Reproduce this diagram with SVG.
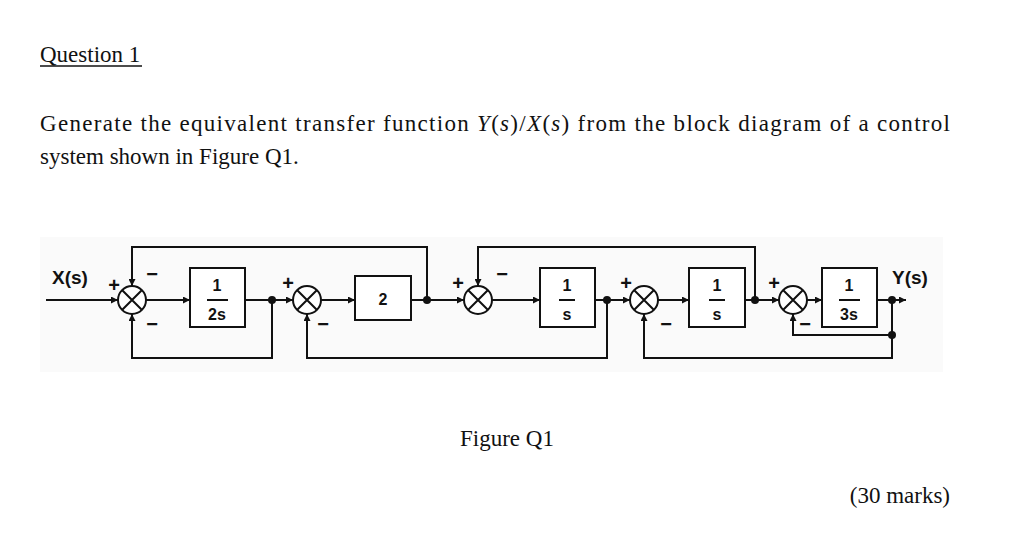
<svg xmlns="http://www.w3.org/2000/svg" width="1009" height="548" viewBox="0 0 1009 548">
<defs>
<marker id="ar" viewBox="0 0 10 10" refX="10" refY="5" markerWidth="9" markerHeight="7" orient="auto" markerUnits="userSpaceOnUse"><path d="M0,0L10,5L0,10z" fill="#111"/></marker>
<style>
.t{font-family:"Liberation Serif",serif;font-size:23px;fill:#111}
.d{font-family:"Liberation Sans",Arial,sans-serif;font-weight:bold;fill:#111}
.l{fill:none;stroke:#111;stroke-width:2}
.b{fill:#fff;stroke:#111;stroke-width:2}
.s{fill:#fff;stroke:#111;stroke-width:2}
</style>
</defs>
<rect width="1009" height="548" fill="#fff"/>
<text class="t" x="40" y="62" font-size="22">Question 1</text>
<line x1="40" y1="66" x2="142" y2="66" stroke="#111" stroke-width="1.3"/>
<text class="t" x="40" y="131" textLength="910" lengthAdjust="spacing">Generate the equivalent transfer function  <tspan font-style="italic">Y</tspan>(<tspan font-style="italic">s</tspan>)/<tspan font-style="italic">X</tspan>(<tspan font-style="italic">s</tspan>)  from the block diagram of a control</text>
<text class="t" x="40" y="164">system shown in Figure Q1.</text>
<text class="t" x="507" y="446" text-anchor="middle" font-size="19">Figure Q1</text>
<text class="t" x="950" y="503" text-anchor="end" font-size="19">(30 marks)</text>
<rect x="40" y="237" width="903" height="135" fill="#fafafa"/>
<g id="connectors" class="l">
<path d="M46,300H118" marker-end="url(#ar)"/>
<path d="M146,300H190" marker-end="url(#ar)"/>
<path d="M245,300H293" marker-end="url(#ar)"/>
<path d="M321,300H355" marker-end="url(#ar)"/>
<path d="M411,300H464" marker-end="url(#ar)"/>
<path d="M492,300H540" marker-end="url(#ar)"/>
<path d="M595,300H630" marker-end="url(#ar)"/>
<path d="M658,300H689" marker-end="url(#ar)"/>
<path d="M745,300H779" marker-end="url(#ar)"/>
<path d="M807,300H822" marker-end="url(#ar)"/>
<path d="M877,300H906" marker-end="url(#ar)"/>
<path d="M427,300V247H132V286" marker-end="url(#ar)"/>
<path d="M272,300V358H132V314" marker-end="url(#ar)"/>
<path d="M607,300V358H307V314" marker-end="url(#ar)"/>
<path d="M755,300V247H478V286" marker-end="url(#ar)"/>
<path d="M892,300V358H644V314" marker-end="url(#ar)"/>
<path d="M892,335H793V314" marker-end="url(#ar)"/>
</g>
<g id="dots" fill="#111">
<circle cx="272" cy="300" r="4"/><circle cx="427" cy="300" r="4"/><circle cx="607" cy="300" r="4"/><circle cx="755" cy="300" r="4"/><circle cx="892" cy="300" r="4"/><circle cx="892" cy="335" r="4"/>
</g>
<g id="sum1"><circle class="s" cx="132" cy="300" r="14"/><path class="l" d="M122,290L142,310M142,290L122,310"/></g>
<g id="sum2"><circle class="s" cx="307" cy="300" r="14"/><path class="l" d="M297,290L317,310M317,290L297,310"/></g>
<g id="sum3"><circle class="s" cx="478" cy="300" r="14"/><path class="l" d="M468,290L488,310M488,290L468,310"/></g>
<g id="sum4"><circle class="s" cx="644" cy="300" r="14"/><path class="l" d="M634,290L654,310M654,290L634,310"/></g>
<g id="sum5"><circle class="s" cx="793" cy="300" r="14"/><path class="l" d="M783,290L803,310M803,290L783,310"/></g>
<g id="signs" class="d" font-size="20">
<text x="114" y="292" text-anchor="middle">+</text><text x="152" y="281" text-anchor="middle">−</text><text x="152" y="331" text-anchor="middle">−</text>
<text x="288" y="290" text-anchor="middle">+</text><text x="323" y="331" text-anchor="middle">−</text>
<text x="458" y="290" text-anchor="middle">+</text><text x="502" y="281" text-anchor="middle">−</text>
<text x="626" y="290" text-anchor="middle">+</text><text x="666" y="331" text-anchor="middle">−</text>
<text x="774" y="290" text-anchor="middle">+</text><text x="805" y="331" text-anchor="middle">−</text>
</g>
<g id="b1"><rect class="b" x="190" y="268" width="55" height="59"/><text class="d" x="217" y="291" font-size="16" text-anchor="middle">1</text><line x1="207" y1="300" x2="228" y2="300" stroke="#111" stroke-width="2"/><text class="d" x="217" y="320" font-size="16" text-anchor="middle">2s</text></g>
<g id="b2"><rect class="b" x="355" y="276" width="56" height="44"/><text class="d" x="383" y="305" font-size="16" text-anchor="middle">2</text></g>
<g id="b3"><rect class="b" x="540" y="268" width="55" height="59"/><text class="d" x="567" y="291" font-size="16" text-anchor="middle">1</text><line x1="559" y1="300" x2="575" y2="300" stroke="#111" stroke-width="2"/><text class="d" x="567" y="320" font-size="16" text-anchor="middle">s</text></g>
<g id="b4"><rect class="b" x="689" y="268" width="56" height="59"/><text class="d" x="717" y="291" font-size="16" text-anchor="middle">1</text><line x1="709" y1="300" x2="725" y2="300" stroke="#111" stroke-width="2"/><text class="d" x="717" y="320" font-size="16" text-anchor="middle">s</text></g>
<g id="b5"><rect class="b" x="822" y="268" width="55" height="59"/><text class="d" x="849" y="291" font-size="16" text-anchor="middle">1</text><line x1="839" y1="300" x2="860" y2="300" stroke="#111" stroke-width="2"/><text class="d" x="849" y="320" font-size="16" text-anchor="middle">3s</text></g>
<text class="d" x="52" y="284" font-size="19">X(s)</text>
<text class="d" x="892" y="284" font-size="19">Y(s)</text>
</svg>
